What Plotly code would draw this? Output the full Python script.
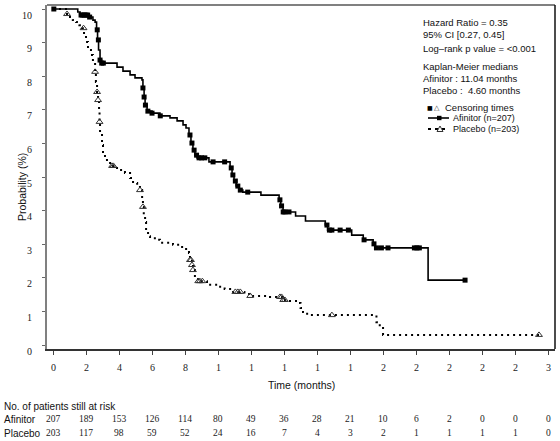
import numpy as np
import plotly.graph_objects as go

# ---------------- data ----------------
afinitor_t = [0, 1.5, 1.64, 2.15, 2.42, 2.55, 2.64, 2.7, 2.76, 2.85,
              2.94, 3.88, 4.24, 4.67, 4.97, 5.39, 5.45, 5.52, 5.58, 5.7,
              6.0, 6.48, 7.09, 7.52, 7.88, 8.06, 8.24, 8.36, 8.48, 8.6,
              8.73, 9.45, 10.73, 10.85, 10.97, 11.1, 11.27, 11.5, 12.6, 13.7,
              13.8, 13.94, 14.7, 15.3, 16.5, 16.64, 18.1, 18.8, 19.4, 19.52,
              22.73, 24.97]
afinitor_s = [100, 99.1, 98.2, 97.6, 96.7, 96.1, 93.8, 90.8, 87.8, 84.8,
              83.9, 82.7, 81.5, 80.4, 79.5, 78.9, 76.5, 73.8, 71.4, 69.6,
              69.0, 68.2, 67.6, 66.7, 65.5, 64.6, 62.5, 60.1, 58.0, 56.5,
              55.7, 54.5, 52.7, 50.6, 48.8, 47.3, 46.1, 45.5, 44.6, 43.2,
              41.4, 39.6, 38.4, 36.9, 35.7, 34.2, 32.7, 31.3, 30.1, 28.9,
              19.3, 19.3]
afinitor_censor = [0.05, 1.7, 1.8, 1.9, 2.0, 2.1, 2.22, 2.68, 2.75, 2.85, 2.95,
                   3.05, 5.45, 5.52, 5.6, 5.75, 6.0, 6.5, 8.3, 8.42, 8.55, 8.7,
                   8.85, 9.0, 9.2, 9.7, 10.4, 10.8, 10.9, 11.05, 11.2, 11.35,
                   11.8, 13.75, 13.85, 13.95, 14.05, 14.3, 16.6, 16.75, 16.9,
                   17.4, 17.9, 18.85, 19.45, 19.6, 19.9, 20.3, 21.9, 22.05,
                   22.2, 24.97]

placebo_t = [0, 0.85, 1.03, 1.2, 1.4, 1.6, 1.75, 1.88, 2.0, 2.12,
             2.3, 2.42, 2.55, 2.6, 2.67, 2.73, 2.79, 2.82, 2.85, 2.97,
             3.03, 3.15, 3.27, 3.58, 3.88, 4.36, 4.67, 4.85, 5.1, 5.27,
             5.4, 5.45, 5.5, 5.58, 5.64, 5.76, 5.88, 6.3, 6.48, 7.27,
             7.7, 8.0, 8.24, 8.3, 8.42, 8.48, 8.6, 8.79, 9.33, 10.0,
             10.4, 10.85, 11.6, 11.9, 13.15, 13.9, 14.36, 14.8, 15.0, 15.15,
             15.4, 19.6, 19.8, 20.0, 29.45]
placebo_s = [100, 98.5, 97.6, 96.7, 96.1, 95.2, 94.3, 92.3, 90.2, 87.8,
             86.3, 84.2, 81.3, 78.3, 75.3, 72.9, 69.3, 66.4, 62.5, 59.5,
             57.1, 55.7, 54.2, 53.3, 52.1, 51.2, 49.7, 48.2, 47.0, 46.1,
             43.2, 41.1, 38.7, 36.6, 34.2, 32.4, 31.8, 31.3, 30.4, 29.8,
             29.2, 28.6, 27.4, 25.3, 23.8, 22.3, 20.2, 19.0, 17.9, 17.3,
             16.7, 15.8, 15.2, 14.6, 14.3, 13.4, 13.1, 12.5, 11.0, 9.8,
             8.9, 6.8, 5.4, 3.0, 3.0]
placebo_censor = [0.85, 1.85, 2.55, 2.67, 2.73, 2.82, 3.58, 3.66, 5.27, 5.45,
                  8.3, 8.36, 8.42, 8.48, 8.8, 8.9, 9.05, 11.05, 11.2, 11.35,
                  11.95, 13.75, 13.85, 13.95, 14.05, 16.9, 29.45]

x_tick_vals = list(range(0, 31, 2))
x_tick_text = ["0", "2", "4", "6", "8", "1", "1", "1", "1", "1",
               "2", "2", "2", "2", "2", "3"]
y_tick_vals = list(range(0, 101, 10))
y_tick_text = ["0", "1", "2", "3", "4", "5", "6", "7", "8", "9", "10"]

risk_afinitor = [207, 189, 153, 126, 114, 80, 49, 36, 28, 21, 10, 6, 2, 0, 0, 0]
risk_placebo = [203, 117, 98, 59, 52, 24, 16, 7, 4, 3, 2, 1, 1, 1, 1, 0]

stats_lines = ["Hazard Ratio = 0.35", "95% CI [0.27, 0.45]",
               "Log\u2013rank p value = <0.001", "Kaplan-Meier medians",
               "Afinitor : 11.04 months", "Placebo :  4.60 months"]

# ---------------- layout helpers ----------------
W, H = 560, 441
L, R, T, B = 47, 555, 5, 349


def pxx(x):
    return (x - L) / (R - L)


def pxy(y):
    return (B - y) / (B - T)


def step_at(ts, ss, c):
    ts = np.asarray(ts)
    ss = np.asarray(ss)
    idx = np.searchsorted(ts, np.asarray(c), side="right") - 1
    return ss[np.clip(idx, 0, len(ss) - 1)]


fig = go.Figure()

fig.add_trace(go.Scatter(x=afinitor_t, y=afinitor_s, mode="lines",
                         line=dict(shape="hv", color="black", width=1.6),
                         hoverinfo="skip", showlegend=False))
fig.add_trace(go.Scatter(x=afinitor_censor,
                         y=step_at(afinitor_t, afinitor_s, afinitor_censor),
                         mode="markers",
                         marker=dict(symbol="square", size=5, color="black"),
                         showlegend=False))
fig.add_trace(go.Scatter(x=placebo_t, y=placebo_s, mode="lines",
                         line=dict(shape="hv", color="black", width=2,
                                   dash="2px,4px"),
                         hoverinfo="skip", showlegend=False))
fig.add_trace(go.Scatter(x=placebo_censor,
                         y=step_at(placebo_t, placebo_s, placebo_censor),
                         mode="markers",
                         marker=dict(symbol="triangle-up-open", size=6,
                                     color="#333", line=dict(width=1)),
                         showlegend=False))

serif = "Liberation Serif, Times New Roman, serif"
sans = "Liberation Sans, Arial, sans-serif"
narrow = "Liberation Sans Narrow, Arial Narrow, Liberation Sans, sans-serif"

x_lo = -0.364
x_hi = 30.42
fig.update_xaxes(range=[x_lo, x_hi], tickvals=x_tick_vals,
                 ticks="outside", ticklen=4, tickcolor="#444", tickwidth=1,
                 showline=True, linecolor="#333", linewidth=1.5,
                 showgrid=False, zeroline=False, showticklabels=False)
fig.update_yaxes(range=[-1.19, 101.19], tickvals=y_tick_vals,
                 ticks="outside", ticklen=3, tickcolor="#666", tickwidth=1,
                 showline=True, linecolor="#808080", linewidth=2,
                 showgrid=False, zeroline=False, showticklabels=False)

tri_cx, tri_cy = 440, 129
tri_path = "M {a},{b} L {c},{d} L {e},{f} Z".format(
    a=pxx(tri_cx - 3), b=pxy(tri_cy + 2.5), c=pxx(tri_cx + 3), d=pxy(tri_cy + 2.5),
    e=pxx(tri_cx), f=pxy(tri_cy - 3))

shapes = [
    dict(type="line", xref="paper", yref="paper", x0=0, x1=1, y0=1, y1=1,
         line=dict(color="#808080", width=2)),
    dict(type="line", xref="paper", yref="paper", x0=1, x1=1, y0=0, y1=1,
         line=dict(color="#111", width=1.5)),
    # legend glyphs
    dict(type="line", xref="paper", yref="paper", x0=pxx(428), x1=pxx(449),
         y0=pxy(118), y1=pxy(118), line=dict(color="black", width=1.6)),
    dict(type="rect", xref="paper", yref="paper", x0=pxx(437), x1=pxx(441.5),
         y0=pxy(120.2), y1=pxy(115.8), fillcolor="black", line=dict(width=0)),
    dict(type="line", xref="paper", yref="paper", x0=pxx(428), x1=pxx(449),
         y0=pxy(129), y1=pxy(129),
         line=dict(color="black", width=1.8, dash="3px,4px")),
    dict(type="path", xref="paper", yref="paper", path=tri_path,
         fillcolor="white", line=dict(color="#333", width=1)),
]

ann = []
# y tick labels (offset below their ticks as in the source)
for v, t in zip(y_tick_vals, y_tick_text):
    ann.append(dict(text=t, x=pxx(34), y=v, xref="paper", yref="y",
                    xanchor="right", yanchor="middle", yshift=-6,
                    showarrow=False,
                    font=dict(family=serif, size=10, color="#222")))
# x tick labels (truncated as in the source)
for v, t in zip(x_tick_vals, x_tick_text):
    ann.append(dict(text=t, x=v, y=pxy(367), xref="x", yref="paper",
                    xanchor="center", yanchor="middle", showarrow=False,
                    font=dict(family=serif, size=10, color="#222")))

stat_y = [23, 34, 48, 66, 78, 90]
for txt, yy in zip(stats_lines, stat_y):
    ann.append(dict(text=txt, x=pxx(421), y=pxy(yy), xref="paper", yref="paper",
                    xanchor="left", yanchor="middle", showarrow=False,
                    font=dict(family=narrow, size=9.5, color="#111")))
ann.append(dict(text="\u25a0", x=pxx(429.5), y=pxy(108), xref="paper", yref="paper",
                xanchor="center", yanchor="middle", showarrow=False,
                font=dict(family="DejaVu Sans", size=6, color="black")))
ann.append(dict(text="\u25b3", x=pxx(437), y=pxy(108), xref="paper", yref="paper",
                xanchor="center", yanchor="middle", showarrow=False,
                font=dict(family="DejaVu Sans", size=7, color="#333")))
ann.append(dict(text="Censoring times", x=pxx(443), y=pxy(108), xref="paper",
                yref="paper", xanchor="left", yanchor="middle", showarrow=False,
                font=dict(family=narrow, size=9.5, color="#111")))
ann.append(dict(text="Afinitor (n=207)", x=pxx(451), y=pxy(118), xref="paper",
                yref="paper", xanchor="left", yanchor="middle", showarrow=False,
                font=dict(family=narrow, size=9, color="#111")))
ann.append(dict(text="Placebo (n=203)", x=pxx(451), y=pxy(129), xref="paper",
                yref="paper", xanchor="left", yanchor="middle", showarrow=False,
                font=dict(family=narrow, size=9, color="#111")))

# axis titles
ann.append(dict(text="Probability (%)", x=pxx(22), y=pxy(187), xref="paper",
                yref="paper", xanchor="center", yanchor="middle", textangle=-90,
                showarrow=False, font=dict(family=sans, size=10.5, color="#111")))
ann.append(dict(text="Time (months)", x=pxx(301), y=pxy(385), xref="paper",
                yref="paper", xanchor="center", yanchor="middle",
                showarrow=False, font=dict(family=sans, size=10.5, color="#111")))

# at-risk table
ann.append(dict(text="No. of patients still at risk", x=pxx(2), y=pxy(406),
                xref="paper", yref="paper", xanchor="left", yanchor="middle",
                showarrow=False, font=dict(family=sans, size=10, color="#111")))
for label, vals, yy in (("Afinitor", risk_afinitor, 419), ("Placebo", risk_placebo, 433)):
    ann.append(dict(text=label, x=pxx(2), y=pxy(yy), xref="paper", yref="paper",
                    xanchor="left", yanchor="middle", showarrow=False,
                    font=dict(family=sans, size=10, color="#111")))
    for xv, v in zip(x_tick_vals, vals):
        ann.append(dict(text=str(v), x=xv, y=pxy(yy), xref="x", yref="paper",
                        xanchor="center", yanchor="middle", showarrow=False,
                        font=dict(family=serif, size=9.5, color="#222")))

fig.update_layout(width=W, height=H, autosize=False,
                  margin=dict(l=L, r=W - R, t=T, b=H - B, pad=0),
                  paper_bgcolor="white", plot_bgcolor="white",
                  shapes=shapes, annotations=ann, showlegend=False)

fig.write_html("out.html", config={"displayModeBar": False},
               post_script="document.body.style.margin='0';"
                           "document.body.style.padding='0';"
                           "document.documentElement.style.overflow='hidden';")
